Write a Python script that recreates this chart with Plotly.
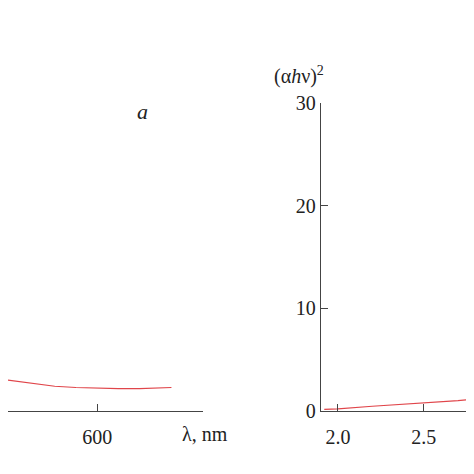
import plotly.graph_objects as go

# left panel (a): absorption vs wavelength
wl = [516, 540, 560, 580, 600, 620, 640, 660, 670]
absorb = [0.100, 0.088, 0.08, 0.076, 0.073, 0.072, 0.072, 0.074, 0.076]

# right panel: (alpha h nu)^2 vs photon energy
ev = [1.92, 2.0, 2.2, 2.4, 2.5, 2.6, 2.7, 2.8, 2.84]
ahv2 = [0.15, 0.2, 0.45, 0.65, 0.8, 0.9, 1.0, 1.15, 1.25]

red = "#e0454a"
axcol = "#444444"
font = dict(family="Liberation Serif", size=20, color="#222222")

fig = go.Figure()
fig.add_trace(go.Scatter(x=wl, y=absorb, mode="lines", line=dict(color=red, width=1.2),
                         xaxis="x", yaxis="y", showlegend=False))
fig.add_trace(go.Scatter(x=ev, y=ahv2, mode="lines", line=dict(color=red, width=1.2),
                         xaxis="x2", yaxis="y2", showlegend=False))

common = dict(showgrid=False, zeroline=False, showline=True, linecolor=axcol, linewidth=1.3,
              ticks="inside", ticklen=7, tickcolor=axcol, tickfont=font)
fig.update_layout(
    width=474, height=474, margin=dict(l=0, r=0, t=0, b=0),
    paper_bgcolor="white", plot_bgcolor="white",
    xaxis=dict(domain=[0, 0.412], range=[516, 700], tickvals=[500, 600, 700],
               ticktext=["500", "600", ""], anchor="y", ticklabelstandoff=8, **common),
    yaxis=dict(domain=[0.133, 0.814], range=[0, 1.0], visible=False),
    xaxis2=dict(domain=[0.660, 1], range=[1.9, 2.84], tickvals=[2.0, 2.5],
                ticktext=["2.0", "2.5"], anchor="y2", ticklabelstandoff=8, **common),
    yaxis2=dict(domain=[0.133, 0.814], range=[0, 30], tickvals=[0, 10, 20, 30],
                anchor="x2", **common),
    annotations=[
        dict(text="λ, nm", x=0.415, y=1 - 435 / 474, xref="paper", yref="paper",
             showarrow=False, xanchor="center", yanchor="middle", font=font),
        dict(text="<i>a</i>", x=127 / 474, y=1 - 82 / 474, xref="paper", yref="paper",
             showarrow=False, font=dict(family="Liberation Serif", size=22, color="#222222")),
        dict(text="(α<i>h</i>ν)<sup>2</sup>", x=318 / 474, y=1 - 44 / 474, xref="paper",
             yref="paper", showarrow=False, font=font),
    ],
)
fig.write_html("out.html")
